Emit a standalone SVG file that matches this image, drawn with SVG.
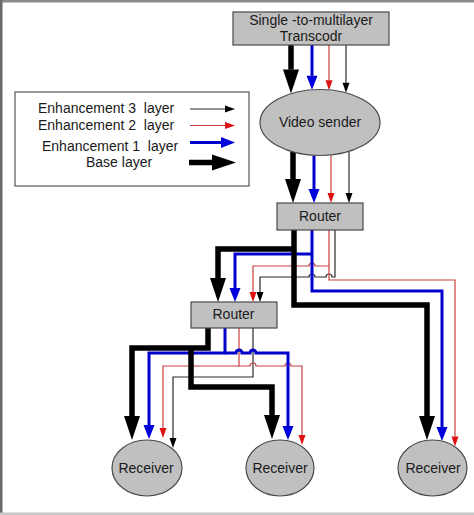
<svg xmlns="http://www.w3.org/2000/svg" width="474" height="515" viewBox="0 0 474 515">
<style>
text{font-family:"Liberation Sans",Arial,sans-serif;font-size:14px;fill:#1a1a1a}
.c{text-anchor:middle}
.box{fill:#c0c0c0;stroke:#4a4a4a;stroke-width:1.2}
.k{fill:none;stroke:#000;stroke-width:5.5}
.b{fill:none;stroke:#0000cc;stroke-width:3}
.r{fill:none;stroke:#c84040;stroke-width:1.2}
.t{fill:none;stroke:#2a2a2a;stroke-width:1.2}
.mk{marker-end:url(#hK)}
.mb{marker-end:url(#hB)}
.mr{marker-end:url(#hR)}
.mt{marker-end:url(#hT)}
</style>
<defs>
<marker id="hK" markerUnits="userSpaceOnUse" markerWidth="24" markerHeight="16" refX="0" refY="8" orient="auto" overflow="visible"><path d="M0,0 L24,8 L0,16 z" fill="#000"/></marker>
<marker id="hB" markerUnits="userSpaceOnUse" markerWidth="14" markerHeight="11" refX="0" refY="5.5" orient="auto" overflow="visible"><path d="M0,0 L14,5.5 L0,11 z" fill="#0000dd"/></marker>
<marker id="hR" markerUnits="userSpaceOnUse" markerWidth="10" markerHeight="7" refX="0" refY="3.5" orient="auto" overflow="visible"><path d="M0,0 L10,3.5 L0,7 z" fill="#dd1111"/></marker>
<marker id="hT" markerUnits="userSpaceOnUse" markerWidth="10" markerHeight="7" refX="0" refY="3.5" orient="auto" overflow="visible"><path d="M0,0 L10,3.5 L0,7 z" fill="#000"/></marker>
</defs>
<rect x="0" y="0" width="474" height="515" fill="#fff"/>
<rect x="0" y="0" width="474" height="2.5" fill="#8a8a8a"/>
<rect x="0" y="0" width="2.5" height="515" fill="#6a6a6a"/>
<rect x="0" y="512.5" width="474" height="2.5" fill="#c8c8c8"/>

<g id="legend">
<rect x="15" y="92" width="234" height="94" fill="#fff" stroke="#555" stroke-width="1.2"/>
<text x="38" y="113" xml:space="preserve">Enhancement 3  layer</text>
<text x="38" y="130" xml:space="preserve" fill="#1a1a1a">Enhancement 2  layer</text>
<text x="42" y="150.5" xml:space="preserve">Enhancement 1  layer</text>
<text x="86" y="166.5">Base layer</text>
<path class="t mt" d="M190,109 H225"/>
<path class="r mr" d="M190,125.5 H225"/>
<path class="b mb" d="M190,142.5 H221"/>
<path class="k mk" d="M189,162.5 H212"/>
</g>

<g id="connectors">
<!-- transcoder to video sender -->
<path class="t mt" d="M346,45 V82.8"/>
<path class="r mr" d="M329,45 V80.2"/>
<path class="b mb" d="M312,45 V75.8"/>
<path class="k mk" d="M291,45 V69.6"/>
<!-- video sender to router 1 -->
<path class="t mt" d="M349,152 V193"/>
<path class="r mr" d="M331,155.5 V193"/>
<path class="b mb" d="M314,155.5 V189"/>
<path class="k mk" d="M293,152 V179"/>
<!-- router 1 outputs -->
<path class="t mt" d="M335,230 V277 H332 A3,3 0 0 0 326,277 H315 A3,3 0 0 0 309,277 H260 V292"/>
<path class="r mr" d="M329,266 H315 A3,3 0 0 0 309,266 H253 V292"/>
<path class="r mr" d="M329,230 V280 H455 V436.5"/>
<path class="b mb" d="M312,254 H235 V288"/>
<path class="b mb" d="M312,230 V291 H442 V427"/>
<path class="k mk" d="M294,249 H218 V278"/>
<path class="k mk" d="M294,230 V305 H427 V416"/>
<!-- router 2 outputs -->
<path class="t mt" d="M253,328 V377 H173 V438"/>
<path class="r mr" d="M239,328 V366 H163 V428"/>
<path class="r mr" d="M239,366 H250 A3,3 0 0 1 256,366 H285 A3,3 0 0 1 291,366 H302 V435"/>
<path class="b mb" d="M225,328 V353 H149 V425"/>
<path class="b mb" d="M225,353 H236 A3,3 0 0 1 242,353 H250 A3,3 0 0 1 256,353 H288 V426"/>
<path class="k mk" d="M208,328 V348 H132 V416"/>
<path class="k mk" d="M191,348 V387 H272 V415"/>
</g>

<g id="transcoder">
<rect class="box" x="233" y="12" width="156" height="33"/>
<text class="c" x="311" y="24.5">Single -to-multilayer</text>
<text class="c" x="311" y="41">Transcodr</text>
</g>
<g id="video-sender">
<ellipse class="box" cx="320" cy="122.5" rx="60" ry="33"/>
<text class="c" x="320" y="127">Video sender</text>
</g>
<g id="router1">
<rect class="box" x="277" y="203" width="86" height="27"/>
<text class="c" x="320" y="221">Router</text>
</g>
<g id="router2">
<rect class="box" x="191" y="302" width="86" height="26"/>
<text class="c" x="233.5" y="319">Router</text>
</g>
<g id="receiver1">
<ellipse class="box" cx="147" cy="468" rx="35" ry="28"/>
<text class="c" x="146" y="473">Receiver</text>
</g>
<g id="receiver2">
<ellipse class="box" cx="280" cy="468" rx="34" ry="28"/>
<text class="c" x="280" y="473">Receiver</text>
</g>
<g id="receiver3">
<ellipse class="box" cx="432.5" cy="468" rx="34.5" ry="28"/>
<text class="c" x="433" y="473">Receiver</text>
</g>
</svg>
